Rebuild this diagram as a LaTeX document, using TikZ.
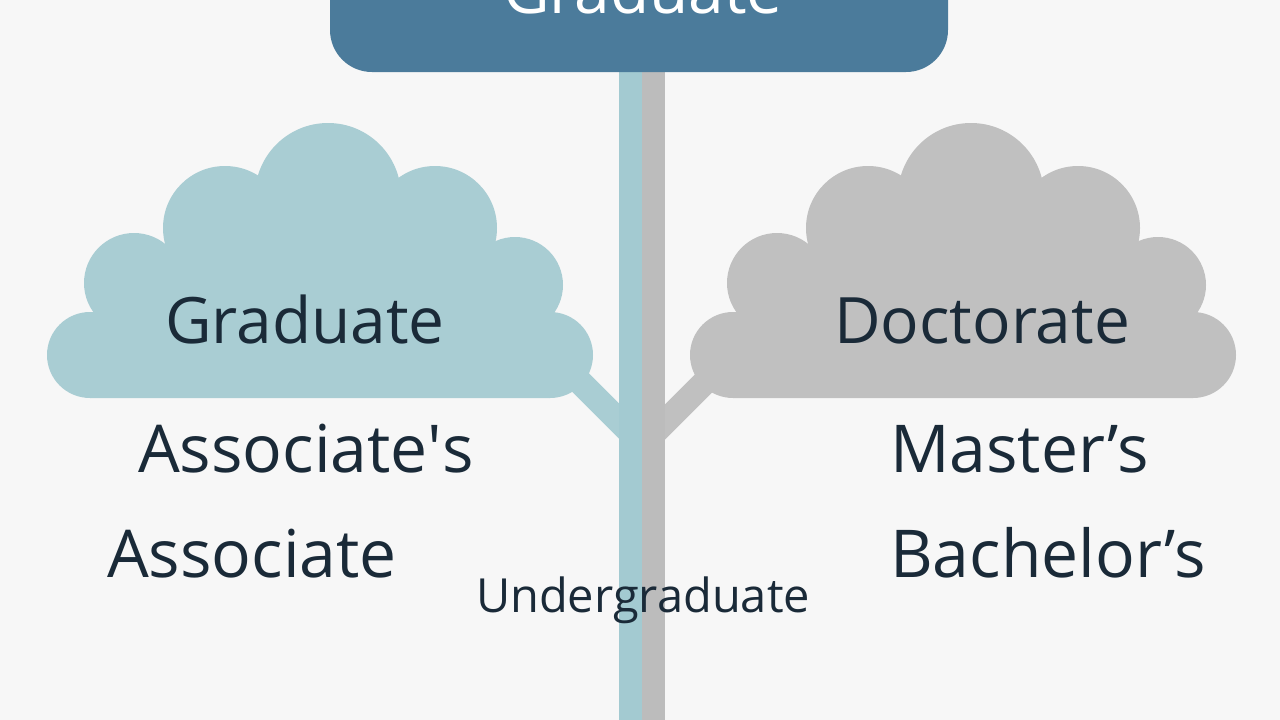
\documentclass[tikz,border=0pt]{standalone}
\usepackage{fontspec}
\setmainfont{Open Sans}
\usetikzlibrary{calc}
\definecolor{pageBg}{HTML}{F7F7F7}
\definecolor{topBlue}{HTML}{4B7B9B}
\definecolor{paleBlue}{HTML}{A9CDD3}
\definecolor{barBlue}{HTML}{A3CAD1}
\definecolor{paleGray}{HTML}{C0C0C0}
\definecolor{barGray}{HTML}{BCBCBC}
\definecolor{inkNavy}{HTML}{1A2A38}
\newcommand{\cloudBumps}{90/355/43, 134/283/50, 225/228/62, 328/196/73, 435/228/62, 515/285/48, 550/355/43}
\newcommand{\cloudShift}{643pt}
\newcommand{\barTop}{72}
\newcommand{\labelSize}{64}
\newcommand{\rankSize}{66}
\newcommand{\smallSize}{47}
\newcommand{\setSize}[1]{\fontsize{#1}{#1}\selectfont}

\begin{document}
\begin{tikzpicture}[x=1pt,y=-1pt,
		branch/.style={line width=25pt},
		word/.style={anchor=base,text=inkNavy,inner sep=0pt}]
		\useasboundingbox (0,0) rectangle (1280,720);
		\fill[pageBg] (0,0) rectangle (1280,720);
		
		\coordinate (leftFork) at (570,372);
		\coordinate (leftJoin) at (628,430);
		\coordinate (rightFork) at (714,373);
		\coordinate (rightJoin) at (655,432);
		\draw[branch,paleBlue] (leftFork) -- (leftJoin);
		\draw[branch,paleGray] (rightFork) -- (rightJoin);
		
		\fill[barBlue] (619,\barTop) rectangle (642,720);
		\fill[barGray] (642,\barTop) rectangle (665,720);
		
		\foreach \shift/\shade in {0pt/paleBlue, \cloudShift/paleGray}
		{
			\begin{scope}[xshift=\shift]
				\foreach \cx/\cy/\r in \cloudBumps
				{
					\fill[\shade] (\cx,\cy) circle (\r);
				}
				\fill[\shade] (90,398) -- (90,355) -- (134,283) -- (225,228) -- (328,196) -- (435,228) -- (515,285) -- (550,355) -- (550,398) -- cycle;
			\end{scope}
		}
		
		\fill[topBlue,rounded corners=42pt] (330,-80) rectangle (948,\barTop);
		\node[word,text=white] (topLabel) at (643,13) {\setSize{\labelSize}Graduate};
		
		\node[word] (gradLabel) at (305,343) {\setSize{\labelSize}Graduate};
		\node[word] (docLabel) at (982,343) {\setSize{\labelSize}Doctorate};
		\node[word] (assocsLabel) at (306,472) {\setSize{\rankSize}Associate\textquotesingle s};
		\node[word] (assocLabel) at (252,577) {\setSize{\rankSize}Associate};
		\node[word,anchor=base west] (mastLabel) at (890,472) {\setSize{\rankSize}Master’s};
		\node[word,anchor=base west] (bachLabel) at (890,577) {\setSize{\rankSize}Bachelor’s};
		\node[word] (underLabel) at (643,612) {\setSize{\smallSize}Undergraduate};
	\end{tikzpicture}
\end{document}
